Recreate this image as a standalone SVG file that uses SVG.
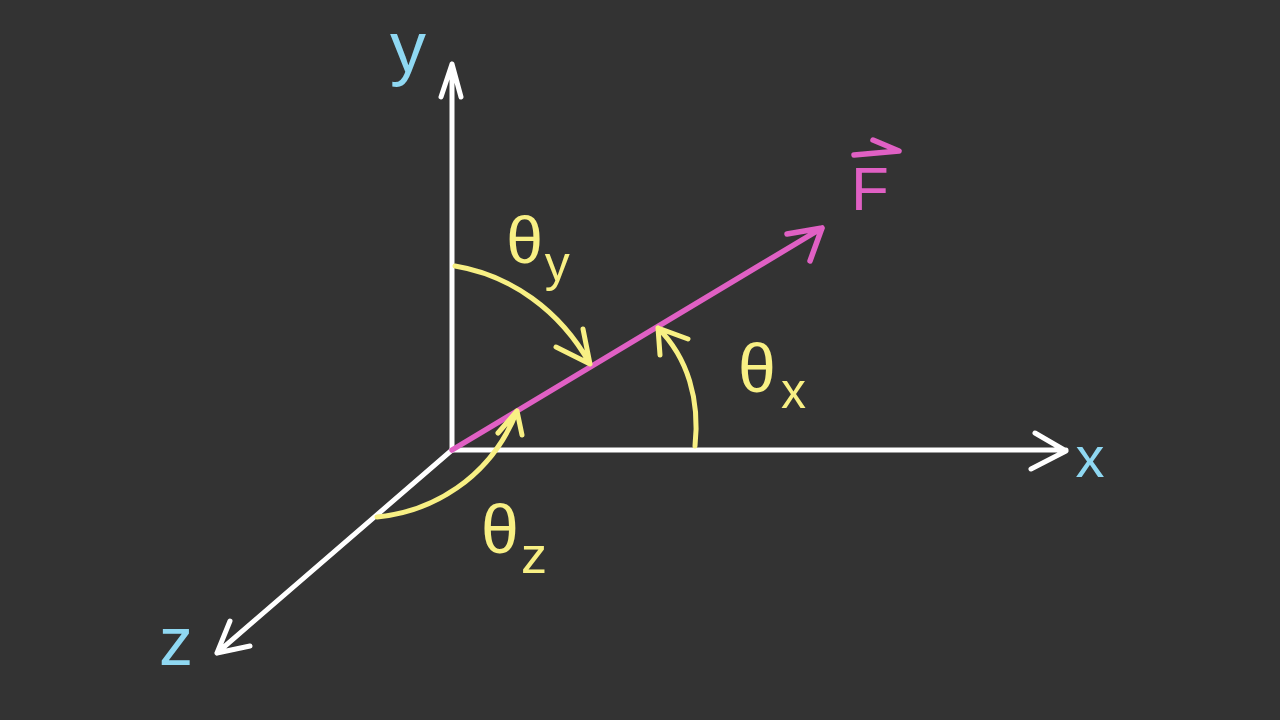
<svg xmlns="http://www.w3.org/2000/svg" width="1280" height="720" viewBox="0 0 1280 720">
<style>
.axis{fill:none;stroke:#ffffff;stroke-width:5;stroke-linecap:round;stroke-linejoin:round}
.force{fill:none;stroke:#e060c4;stroke-width:5.5;stroke-linecap:round;stroke-linejoin:round}
.ang{fill:none;stroke:#f8f084;stroke-width:5;stroke-linecap:round;stroke-linejoin:round}
.lbl{font-family:"Liberation Sans","DejaVu Sans",sans-serif;fill:#8fd8f2;text-anchor:middle}
.th{font-family:"Liberation Sans","DejaVu Sans",sans-serif;fill:#f8f084;text-anchor:middle}
.fl{font-family:"Liberation Sans","DejaVu Sans",sans-serif;fill:#e060c4}
</style>
<rect width="1280" height="720" fill="#333333"/>
<g id="connectors">
  <path class="axis" d="M452,450 L452,64 M441,97 L452,64 L461,97"/>
  <path class="axis" d="M452,450 L1066,450 M1035,433 L1066,451 L1031,469"/>
  <path class="axis" d="M452,450 L217,653 M230,621 L217,653 L250,646"/>
  <path class="force" d="M452,450 L822,228 M787,234 L822,228 L810,261"/>
  <path class="ang" d="M455,266 C510,275 560,310 590,364 M556,347 L590,364 L583,329"/>
  <path class="ang" d="M695,446 C700,400 688,358 658,328 M660,355 L658,328 L688,339"/>
  <path class="ang" d="M377,517 C430,512 490,480 517,411 M498,433 L517,411 L522,435"/>
</g>
<g id="label-y"><text class="lbl" x="408" y="72" font-size="72">y</text></g>
<g id="label-x"><text class="lbl" x="1090" y="477" font-size="58">x</text></g>
<g id="label-z"><text class="lbl" x="176" y="665" font-size="68">z</text></g>
<g id="label-F">
  <text class="fl" x="851" y="210" font-size="62">F</text>
  <path class="force" d="M854,155 L899,151 M873,140 L899,151" stroke-width="4.5"/>
</g>
<g id="theta-y"><text class="th" x="538" y="263" font-size="66">θ<tspan font-size="50" dy="18" dx="2">y</tspan></text></g>
<g id="theta-x"><text class="th" x="772" y="392" font-size="68">θ<tspan font-size="50" dy="16" dx="5">x</tspan></text></g>
<g id="theta-z"><text class="th" x="514" y="553" font-size="68">θ<tspan font-size="52" dy="20" dx="2">z</tspan></text></g>
</svg>
